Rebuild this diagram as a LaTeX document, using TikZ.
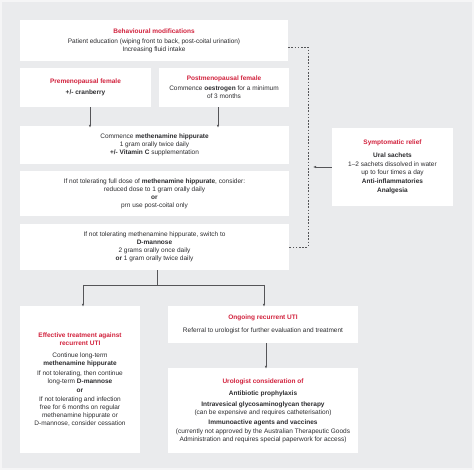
\documentclass[tikz,border=0pt]{standalone}
\usepackage{fontspec}
\setmainfont{Liberation Sans}
\usetikzlibrary{arrows.meta,calc}
\definecolor{bg}{RGB}{234,235,237}
\definecolor{edge}{RGB}{245,245,246}
\definecolor{redt}{RGB}{210,35,62}
\definecolor{txt}{RGB}{45,45,48}
\definecolor{ln}{RGB}{85,85,88}
\newcommand{\hd}[1]{{\color{redt}\bfseries #1}}
\begin{document}
\begin{tikzpicture}[x=1pt,y=-1pt,
  box/.style={fill=white,draw=none,align=center,inner sep=0pt,text=txt,
    font=\fontsize{6.5}{7.9}\selectfont},
  conn/.style={draw=ln,line width=0.6pt},
  arr/.style={conn,-{Latex[length=3pt,width=2.4pt]}},
  dsh/.style={draw=ln,line width=0.9pt,dash pattern=on 1.6pt off 1.6pt}]
\useasboundingbox (0,0) rectangle (474,470);
\fill[edge] (0,0) rectangle (474,470);
\fill[bg] (2,2) rectangle (472,468);
% boxes
\node[box,minimum width=268pt,minimum height=41pt] (beh) at (154,40.5)
  {\hd{Behavioural modifications}\\[2.5pt]Patient education (wiping front to back, post-coital urination)\\[-0.5pt]Increasing fluid intake};
\node[box,minimum width=131pt,minimum height=39pt] (pre) at (85.5,87.5)
  {\hd{Premenopausal female}\\[3pt]\textbf{+/- cranberry}};
\node[box,minimum width=130pt,minimum height=39pt] (post) at (224,87.5)
  {\hd{Postmenopausal female}\\[2pt]Commence \textbf{oestrogen} for a minimum\\of 3 months};
\node[box,minimum width=269pt,minimum height=38pt] (meth) at (154.5,145)
  {Commence \textbf{methenamine hippurate}\\1 gram orally twice daily\\\textbf{+/- Vitamin C} supplementation};
\node[box,minimum width=269pt,minimum height=45pt] (full) at (154.5,193.5)
  {If not tolerating full dose of \textbf{methenamine hippurate}, consider:\\reduced dose to 1 gram orally daily\\\textbf{or}\\prn use post-coital only};
\node[box,minimum width=269pt,minimum height=46pt] (dman) at (154.5,247)
  {If not tolerating methenamine hippurate, switch to\\\textbf{D-mannose}\\2 grams orally once daily\\\textbf{or} 1 gram orally twice daily};
\node[box,minimum width=121pt,minimum height=78pt] (sym) at (392.5,167)
  {\hd{Symptomatic relief}\\[5pt]\textbf{Ural sachets}\\[1pt]1–2 sachets dissolved in water\\up to four times a day\\[1.5pt]\textbf{Anti-inflammatories}\\[1pt]\textbf{Analgesia}};
\node[box,minimum width=120pt,minimum height=147pt] (eff) at (80,379.5)
  {\hd{Effective treatment against}\\\hd{recurrent UTI}\\[4pt]Continue long-term\\\textbf{methenamine hippurate}\\[2.5pt]If not tolerating, then continue\\long-term \textbf{D-mannose}\\[1pt]\textbf{or}\\[1pt]If not tolerating and infection\\free for 6 months on regular\\methenamine hippurate or\\D-mannose, consider cessation};
\node[box,minimum width=190pt,minimum height=37pt] (ong) at (263,324.5)
  {\hd{Ongoing recurrent UTI}\\[5pt]Referral to urologist for further evaluation and treatment};
\node[box,minimum width=190pt,minimum height=85pt] (uro) at (263,410.5)
  {\hd{Urologist consideration of}\\[4pt]\textbf{Antibiotic prophylaxis}\\[3pt]\textbf{Intravesical glycosaminoglycan therapy}\\[1pt](can be expensive and requires catheterisation)\\[2pt]\textbf{Immunoactive agents and vaccines}\\[1pt](currently not approved by the Australian Therapeutic Goods\\[-0.5pt]Administration and requires special paperwork for access)};
% coordinates
\coordinate (dTL) at (308,47);
\coordinate (dBL) at (308,247);
\coordinate (junc) at (157,285);
\coordinate (jl) at (83,285);
\coordinate (jr) at (264,285);
\coordinate (symtip) at (313,167);
% connectors
\draw[arr] (pre.south -| 90,0) -- ([yshift=-2pt]meth.north -| 90,0);
\draw[arr] (post.south -| 218,0) -- ([yshift=-2pt]meth.north -| 218,0);
\draw[dsh] (beh.east |- dTL) -- (dTL) -- (dBL) -- (dman.east |- dBL);
\draw[arr] (sym.west) -- (symtip);
\draw[conn] (dman.south -| junc) -- (junc);
\draw[conn] (jl) -- (jr);
\draw[arr] (jl) -- ([yshift=-1pt]eff.north -| jl);
\draw[arr] (jr) -- ([yshift=-1pt]ong.north -| jr);
\draw[arr] (ong.south -| 266,0) -- ([yshift=-1pt]uro.north -| 266,0);
\end{tikzpicture}
\end{document}
